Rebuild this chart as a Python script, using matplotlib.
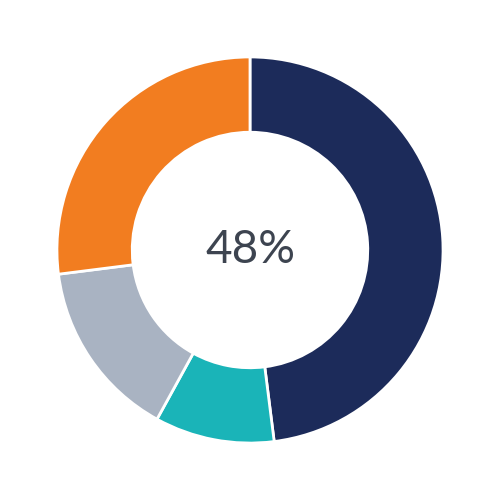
import matplotlib.pyplot as plt

# Share values
labels = ['Navy', 'Teal', 'Gray', 'Orange']
values = [48, 10, 15, 27]
colors = ['#1c2b5a', '#1ab4b8', '#a9b3c2', '#f27d20']
center_label = '48%'

fig = plt.figure(figsize=(5, 5), dpi=100)
ax = fig.add_axes([0, 0, 1, 1])

ax.pie(values, colors=colors, startangle=90, counterclock=False,
       radius=1.0,
       wedgeprops=dict(width=0.39, edgecolor='white', linewidth=2))

ax.text(0, 0, center_label, ha='center', va='center',
        fontsize=33, color='#3d4450', family='Lato')

ax.set_xlim(-1.295, 1.295)
ax.set_ylim(-1.295, 1.295)
ax.set_aspect('equal')
ax.axis('off')

fig.savefig('out.png', dpi=100, facecolor='white')
